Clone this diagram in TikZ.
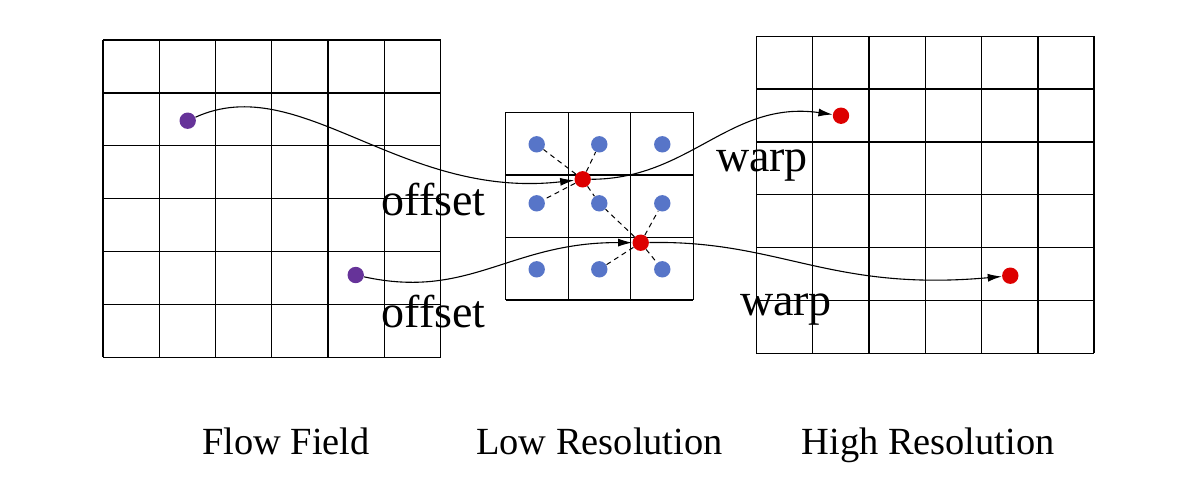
\documentclass[tikz,border=0pt]{standalone}
\usepackage{fontspec}
\setmainfont{Liberation Serif}
\usetikzlibrary{arrows.meta,positioning}

\definecolor{flowpurple}{RGB}{102,51,153}
\definecolor{lowblue}{RGB}{87,117,200}
\definecolor{warpred}{RGB}{221,0,0}

\begin{document}
\begin{tikzpicture}[x=0.5pt,y=-0.5pt,
gridline/.style={line width=0.7pt},
dot/.style={circle,inner sep=0pt,minimum size=8.2pt},
flowdot/.style={dot,fill=flowpurple},
lowdot/.style={dot,fill=lowblue},
reddot/.style={dot,fill=warpred},
link/.style={dash pattern=on 2.5pt off 2pt,line width=0.5pt},
flow/.style={line width=0.55pt,-{Latex[length=7pt,width=4pt]}},
tag/.style={inner sep=0pt,anchor=base,font=\fontsize{23}{27}\selectfont},
title/.style={inner sep=0pt,anchor=base,font=\fontsize{19.2}{23}\selectfont}]
\useasboundingbox (0,0) rectangle (1190,494);
% grids
\foreach \i in {0,...,6} {
\draw[gridline] (103+\i*56.25,40) -- (103+\i*56.25,357.3);
\draw[gridline] (103,40+\i*52.88) -- (440.5,40+\i*52.88);
\draw[gridline] (756.3+\i*56.3,36.3) -- (756.3+\i*56.3,353.3);
\draw[gridline] (756.3,36.3+\i*52.83) -- (1094,36.3+\i*52.83);
}
\foreach \i in {0,...,3} {
\draw[gridline] (505.7+\i*62.53,112.3) -- (505.7+\i*62.53,300);
\draw[gridline] (505.7,112.3+\i*62.57) -- (693.3,112.3+\i*62.57);
}
% dots
\node[flowdot] (p1) at (187.7,120.7) {};
\node[flowdot] (p2) at (355.7,275) {};
\foreach \c/\x in {1/536.7,2/599.3,3/662.3}
\foreach \r/\y in {1/144.3,2/203.3,3/269.3}
\node[lowdot] (b\r\c) at (\x,\y) {};
\node[reddot] (r1) at (582.7,179.3) {};
\node[reddot] (r2) at (640.7,242.7) {};
\node[reddot] (h1) at (841,115.7) {};
\node[reddot] (h2) at (1010.3,275.7) {};
% neighbours
\draw[link] (r1)--(b11) (r1)--(b12) (r1)--(b21) (r1)--(b22);
\draw[link] (r2)--(b22) (r2)--(b23) (r2)--(b32) (r2)--(b33);
% offsets and warps
\draw[flow] (p1) .. controls (300,70) and (400,200) .. (r1);
\draw[flow] (p2) .. controls (470,300) and (510,242) .. (r2);
\draw[flow] (r1) .. controls (690,179) and (730,100) .. (h1);
\draw[flow] (r2) .. controls (780,240) and (830,292) .. (h2);
% labels
\node[tag] (o1) at (433.5,215) {offset};
\node[tag] (o2) at (433.5,327) {offset};
\node[tag] (w1) at (762,171.5) {warp};
\node[tag] (w2) at (786,315) {warp};
\node[title] (ff) at (286,454.5) {Flow Field};
\node[title] (lr) at (599.5,454.5) {Low Resolution};
\node[title] (hr) at (928,454.5) {High Resolution};
\end{tikzpicture}
\end{document}
